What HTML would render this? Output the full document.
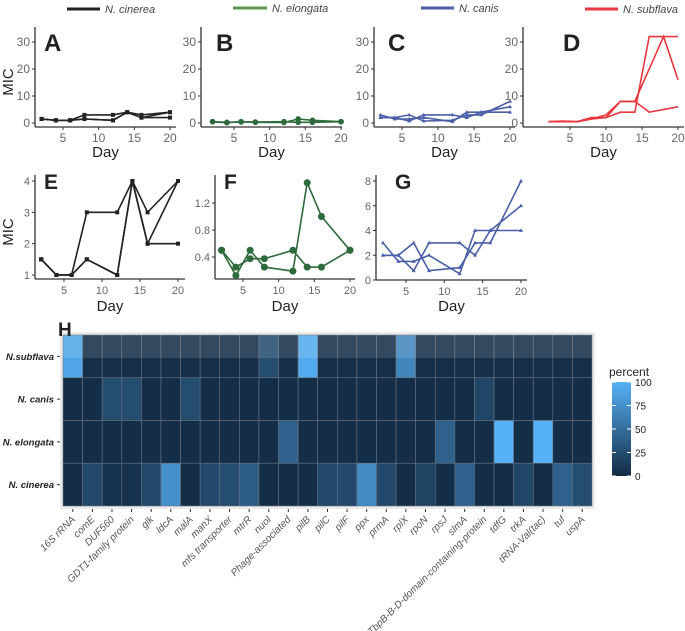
<!DOCTYPE html>
<html><head><meta charset="utf-8"><style>
html,body{margin:0;padding:0;background:#fff;}
svg{display:block;font-family:"Liberation Sans",sans-serif;}
</style></head><body>
<svg id="fig" width="685" height="631" viewBox="0 0 685 631" xmlns="http://www.w3.org/2000/svg">
<g id="legend">
  <g><line x1="67" y1="9" x2="100" y2="9" stroke="#222" stroke-width="3"/><text x="105" y="13" font-size="11" font-style="italic" fill="#444">N. cinerea</text></g>
  <g><line x1="233" y1="8" x2="267" y2="8" stroke="#5b9a4e" stroke-width="3"/><text x="272" y="12" font-size="11" font-style="italic" fill="#444">N. elongata</text></g>
  <g><line x1="421" y1="8" x2="454" y2="8" stroke="#4a5fa8" stroke-width="3"/><text x="459" y="12" font-size="11" font-style="italic" fill="#444">N. canis</text></g>
  <g><line x1="585" y1="9" x2="618" y2="9" stroke="#e8373f" stroke-width="3"/><text x="623" y="13" font-size="11" font-style="italic" fill="#444">N. subflava</text></g>
</g>
<g id="plots"></g>
<g id="heat"></g>
</svg>
<script>
// ---- line chart data ----
const daysStd = [2,4,6,8,12,14,16,20];
const cinerea1 = [1.5,1,1,3,3,4,3,4];
const cinerea2 = [1.5,1,1,1.5,1,4,2,4];
const cinerea3 = [1.5,1,1,1.5,1,4,2,2];
const elongata1 = [0.5,0.125,0.5,0.25,0.19,1.5,1,0.5];
const elongata2 = [0.5,0.25,0.375,0.375,0.5,0.25,0.25,0.5];
const canis1 = [3,1.5,1.5,2,0.5,4,4,4];
const canis2 = [2,2,3,0.75,1,3,3,8];
const canis3 = [2,2,0.75,3,3,2,4,6];
const subDays1 = [2,4,6,8,10,12,14,16,20];
const subflava1 = [0.5,0.5,0.5,2,2,8,8,4,6];
const subDays2 = [2,4,6,8,10,12,14,16,20];
const subflava2 = [0.5,0.75,0.5,1.5,2,4,4,32,32];
const subDays3 = [2,4,6,8,10,12,14,18,20];
const subflava3 = [0.5,0.5,0.5,1.5,3,8,8,32,16];
const xTicks = [5,10,15,20];
const yTicksTop = [0,10,20,30];
const yTicksE = [1,2,3,4];
const yTicksF = [0.4,0.8,1.2];
const yTicksG = [0,2,4,6,8];

// ---- heatmap data ----
const genes = ["16S rRNA","comE","DUF560","GDT1-family protein","glk","ldcA","malA","manX","mfs transporter","mtrR","nuoI","Phage-associated","pilB","pilC","pilF","ppx","prmA","rplX","rpoN","rpsJ","slmA","TbpB-B-D-domain-containing-protein","tdfG","trkA","tRNA-Val(tac)","tuf","uspA"];
const species = ["N.subflava","N. canis","N. elongata","N. cinerea"];
const pctSubflava = [92,3,3,3,3,3,3,3,3,3,25,3,95,3,3,3,3,68,3,3,3,3,3,3,3,3,3];
const pctCanis = [2,2,25,25,2,2,25,2,2,2,2,2,2,2,2,2,2,2,2,2,2,20,2,2,2,2,2];
const pctElongata = [2,2,2,2,2,2,2,2,2,2,2,40,2,2,2,2,2,2,2,40,2,2,100,2,100,2,2];
const pctCinerea = [2,22,5,5,22,75,2,22,25,38,2,2,2,22,22,72,22,2,18,2,40,2,2,20,2,40,25];
const legendTicks = [0,25,50,75,100];

const NS="http://www.w3.org/2000/svg";
function mk(tag, attrs, parent){const e=document.createElementNS(NS,tag);for(const k in attrs)e.setAttribute(k,attrs[k]);parent.appendChild(e);return e;}
const plots=document.getElementById('plots');

function panel(cfg, seriesList, yTicks, name){
  const g=mk('g',{},plots);
  
  
  const xs=d=>cfg.d5+(d-5)*(cfg.d20-cfg.d5)/15;
  const ys=v=>cfg.yA+(v-cfg.vA)*(cfg.yB-cfg.yA)/(cfg.vB-cfg.vA);
  const ax=mk('line',{x1:cfg.ax,y1:cfg.top,x2:cfg.ax,y2:cfg.ay,stroke:'#333','stroke-width':1.3},g);
  
  
  const ax2=mk('line',{x1:cfg.ax,y1:cfg.ay,x2:cfg.right,y2:cfg.ay,stroke:'#333','stroke-width':1.3},g);
  
  
  yTicks.forEach(v=>{
    const y=ys(v);
    mk('line',{x1:cfg.ax-3,y1:y,x2:cfg.ax,y2:y,stroke:'#333','stroke-width':1},g);
    const t=mk('text',{x:cfg.ax-5,y:y+4,'font-size':cfg.fs,'text-anchor':'end',fill:'#666'},g);
    t.textContent=String(v);
    
    
  });
  xTicks.forEach(d=>{
    const x=xs(d);
    mk('line',{x1:x,y1:cfg.ay,x2:x,y2:cfg.ay+3,stroke:'#333','stroke-width':1},g);
    const t=mk('text',{x:x,y:cfg.ay+15,'font-size':cfg.fs,'text-anchor':'middle',fill:'#666'},g);
    t.textContent=String(d);
    
    
  });
  const xt=mk('text',{x:(cfg.ax+cfg.right)/2,y:cfg.dayY,'font-size':15,'text-anchor':'middle',fill:'#222'},g);
  xt.textContent='Day';
  
  
  const lt=mk('text',{x:cfg.lx,y:cfg.ly,'font-size':cfg.lfs,'font-weight':'bold',fill:'#222'},g);
  lt.textContent=cfg.letter;
  
  
  seriesList.forEach(s=>{
    const pts=s.days.map((d,i)=>xs(d).toFixed(1)+','+ys(s.vals[i]).toFixed(1)).join(' ');
    const pl=mk('polyline',{points:pts,fill:'none',stroke:cfg.color,'stroke-width':1.6},g);
    
    
    s.days.forEach((d,i)=>{
      const x=xs(d),y=ys(s.vals[i]);let m;
      if(cfg.marker==='square') m=mk('rect',{x:x-2,y:y-2,width:4,height:4,fill:cfg.color},g);
      else if(cfg.marker==='circle') m=mk('circle',{cx:x,cy:y,r:cfg.mr,fill:cfg.color},g);
      else if(cfg.marker==='tri') m=mk('polygon',{points:`${x},${y-2.2} ${x-2},${y+1.4} ${x+2},${y+1.4}`,fill:cfg.color},g);
      if(m){
        
        
      }
    });
  });
}
const topCfg={top:27,ay:127,vA:0,yA:123,vB:30,yB:42,fs:12,lfs:24,ly:51,dayY:157};
panel(Object.assign({},topCfg,{ax:35,right:176,d5:63,d20:170,lx:44,letter:'A',color:'#222',marker:'square'}),
  [{days:daysStd,vals:cinerea1},{days:daysStd,vals:cinerea2},{days:daysStd,vals:cinerea3}],yTicksTop,'panel-a-cinerea');
panel(Object.assign({},topCfg,{ax:201,right:342,d5:234,d20:341,lx:216,letter:'B',color:'#2d6a3c',marker:'circle',mr:2.8}),
  [{days:daysStd,vals:elongata1},{days:daysStd,vals:elongata2}],yTicksTop,'panel-b-elongata');
panel(Object.assign({},topCfg,{ax:374,right:515,d5:402,d20:510,lx:388,letter:'C',color:'#4a5fa8',marker:'tri'}),
  [{days:daysStd,vals:canis1},{days:daysStd,vals:canis2},{days:daysStd,vals:canis3}],yTicksTop,'panel-c-canis');
panel(Object.assign({},topCfg,{ax:523,right:684,d5:570,d20:678,lx:563,letter:'D',color:'#e8373f',marker:'none'}),
  [{days:subDays1,vals:subflava1},{days:subDays2,vals:subflava2},{days:subDays3,vals:subflava3}],yTicksTop,'panel-d-subflava');
const midCfg={top:175,fs:11,lfs:21,ly:189,dayY:311};
panel(Object.assign({},midCfg,{ax:35,ay:279,right:185,d5:64,d20:178,vA:1,yA:275,vB:4,yB:181,lx:44,letter:'E',color:'#222',marker:'square'}),
  [{days:daysStd,vals:cinerea1},{days:daysStd,vals:cinerea2},{days:daysStd,vals:cinerea3}],yTicksE,'panel-e-cinerea');
panel(Object.assign({},midCfg,{ax:215,ay:279,right:355,d5:243,d20:350,vA:0.4,yA:257,vB:1.2,yB:203,lx:224,letter:'F',color:'#2d6a3c',marker:'circle',mr:3.5}),
  [{days:daysStd,vals:elongata1},{days:daysStd,vals:elongata2}],yTicksF,'panel-f-elongata');
panel(Object.assign({},midCfg,{ax:376,ay:280,right:527,d5:406,d20:521,vA:0,yA:280,vB:8,yB:181,lx:395,letter:'G',color:'#4a5fa8',marker:'tri'}),
  [{days:daysStd,vals:canis1},{days:daysStd,vals:canis2},{days:daysStd,vals:canis3}],yTicksG,'panel-g-canis');
[[13,82],[13,232]].forEach(p=>{
  const t=mk('text',{x:p[0],y:p[1],'font-size':15,'text-anchor':'middle',fill:'#222',transform:`rotate(-90 ${p[0]} ${p[1]})`},plots);
  t.textContent='MIC';
  
  
});

// ---- heatmap ----
const heat=document.getElementById('heat');
const hx0=63,hx1=592,hy0=335,hy1=506;
const cw=(hx1-hx0)/genes.length, ch=(hy1-hy0)/species.length;
function colorFor(p){const a=[0x13,0x2B,0x43],b=[0x56,0xB1,0xF7],t=p/100;return 'rgb('+a.map((v,i)=>Math.round(v+(b[i]-v)*t)).join(',')+')';}
const bg=mk('rect',{x:hx0-3,y:hy0-3,width:hx1-hx0+6,height:hy1-hy0+6,fill:'#ebebeb'},heat);


const rows=[pctSubflava,pctCanis,pctElongata,pctCinerea];
rows.forEach((row,r)=>{
  row.forEach((v,c)=>{
    const cell=mk('rect',{x:hx0+c*cw,y:hy0+r*ch,width:cw,height:ch,fill:colorFor(v),stroke:'#6a7380','stroke-width':0.6},heat);
    
    
  });
});
const ov=mk('rect',{x:hx0,y:hy0,width:hx1-hx0,height:(358-hy0),fill:'#fff','fill-opacity':0.13},heat);


species.forEach((s,r)=>{
  const y=hy0+(r+0.5)*ch;
  mk('line',{x1:hx0-6,y1:y,x2:hx0-3,y2:y,stroke:'#333'},heat);
  const t=mk('text',{x:hx0-9,y:y+3.5,'font-size':9.5,'font-weight':'bold','font-style':'italic','text-anchor':'end',fill:'#222'},heat);
  t.textContent=s;
  
  
});
genes.forEach((gname,c)=>{
  const x=hx0+(c+0.5)*cw;
  mk('line',{x1:x,y1:hy1+3,x2:x,y2:hy1+6,stroke:'#333'},heat);
  const t=mk('text',{x:x+3,y:hy1+14,'font-size':10,'font-style':'italic','text-anchor':'end',fill:'#555',transform:`rotate(-45 ${x+3} ${hy1+14})`},heat);
  t.textContent=gname;
  
  
});
const H=mk('text',{x:58,y:336,'font-size':19,'font-weight':'bold',fill:'#222'},heat);
H.textContent='H';


const defs=mk('defs',{},heat);
const lg=mk('linearGradient',{id:'grad',x1:0,y1:1,x2:0,y2:0},defs);
mk('stop',{offset:0,'stop-color':colorFor(0)},lg);mk('stop',{offset:1,'stop-color':colorFor(100)},lg);
const ltt=mk('text',{x:609,y:376,'font-size':12,fill:'#222'},heat);
ltt.textContent='percent';


const ly0=382,ly1=476;
const bar=mk('rect',{x:612,y:ly0,width:19,height:ly1-ly0,fill:'url(#grad)'},heat);


legendTicks.forEach(v=>{
  const y=ly1-(ly1-ly0)*v/100;
  mk('line',{x1:612,y1:y,x2:616,y2:y,stroke:'#fff'},heat);
  mk('line',{x1:627,y1:y,x2:631,y2:y,stroke:'#fff'},heat);
  const t=mk('text',{x:635,y:y+4,'font-size':10,fill:'#222'},heat);
  t.textContent=String(v);
  
  
});
</script>
</body></html>
